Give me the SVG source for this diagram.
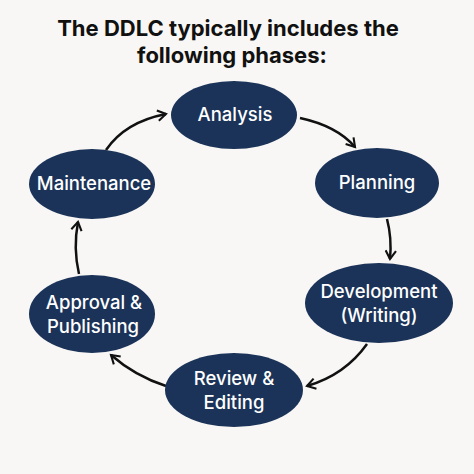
<svg xmlns="http://www.w3.org/2000/svg" width="474" height="474" viewBox="0 0 474 474">
<style>
.node{fill:#1b3358;}
.lbl{fill:#ffffff;font-family:"Inter","Liberation Sans",sans-serif;font-size:18.5px;font-weight:500;text-anchor:middle;}
.title{fill:#111111;font-family:"Inter","Liberation Sans",sans-serif;font-size:22px;font-weight:700;text-anchor:middle;}
.edge{fill:none;stroke:#111111;stroke-width:2.5;marker-end:url(#ah);}
</style>
<defs>
<marker id="ah" viewBox="0 0 12 12" refX="9" refY="6" markerWidth="5" markerHeight="5" orient="auto" markerUnits="strokeWidth">
<path d="M1,1 L9,6 L1,11" fill="none" stroke="#111111" stroke-width="2"/>
</marker>
</defs>
<rect width="474" height="474" fill="#f8f7f5"/>
<text class="title" x="228" y="36">The DDLC typically includes the</text>
<text class="title" x="232" y="63">following phases:</text>
<g id="connectors">
<path class="edge" d="M106,150 Q125,122 166,114"/>
<path class="edge" d="M300,118 Q337,126 355,147"/>
<path class="edge" d="M387,219 Q392,238 390,259"/>
<path class="edge" d="M367,344 Q345,375 307,386"/>
<path class="edge" d="M166,386 Q135,376 111,355"/>
<path class="edge" d="M79,274 Q73,248 78,222"/>
</g>
<g id="analysis"><ellipse class="node" cx="234" cy="115" rx="63" ry="34"/><text class="lbl" x="235" y="121">Analysis</text></g>
<g id="planning"><ellipse class="node" cx="377" cy="183" rx="62" ry="35"/><text class="lbl" x="377" y="189">Planning</text></g>
<g id="development"><ellipse class="node" cx="379" cy="303" rx="74" ry="40"/><text class="lbl" x="379" y="298">Development</text><text class="lbl" x="379" y="322">(Writing)</text></g>
<g id="review"><ellipse class="node" cx="234" cy="390" rx="69" ry="37"/><text class="lbl" x="234" y="385">Review &amp;</text><text class="lbl" x="234" y="409">Editing</text></g>
<g id="approval"><ellipse class="node" cx="92" cy="314" rx="63" ry="39"/><text class="lbl" x="94" y="309">Approval &amp;</text><text class="lbl" x="93" y="333">Publishing</text></g>
<g id="maintenance"><ellipse class="node" cx="92" cy="184" rx="63" ry="35"/><text class="lbl" x="94" y="190">Maintenance</text></g>
</svg>
